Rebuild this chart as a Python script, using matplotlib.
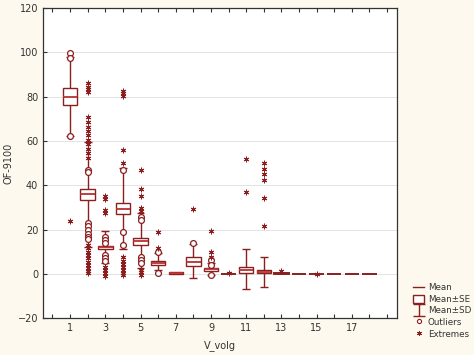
import matplotlib
matplotlib.use('Agg')
import matplotlib.pyplot as plt
from matplotlib.patches import Rectangle
from matplotlib.lines import Line2D
from matplotlib.path import Path

# per-category summary (V_volg = 1..18)
cats = list(range(1, 19))
means = [80, 35.9, 12, 29.4, 14.8, 5, 0.3, 5.5, 2, 0, 1.7, 1, 0.1, 0, 0, 0, 0, 0]
se_lo = [76.2, 33.3, 11, 26.8, 13, 3.9, 0, 3.6, 1.4, 0, 0.2, 0.2, 0, 0, 0, 0, 0, 0]
se_hi = [83.9, 38.1, 12.5, 32.2, 16.3, 5.9, 0.7, 7.4, 2.4, 0, 3.2, 1.7, 0.3, 0, 0, 0, 0, 0]
sd_lo = [62.2, 11.9, 5, 11.2, 2.6, 1.7, 0, -2.1, -0.5, 0, -7, -5.9, 0, 0, 0, 0, 0, 0]
sd_hi = [97.8, 59.6, 19.3, 48, 27.4, 9.2, 0.7, 13.4, 4.7, 0, 11, 7.7, 0.3, 0, 0, 0, 0, 0]

out_x = [1, 1, 1,
         2, 2, 2, 2, 2, 2, 2, 2,
         3, 3, 3, 3, 3, 3,
         4, 4, 4,
         5, 5, 5, 5, 5,
         6, 6,
         8,
         9, 9, 9]
out_y = [99.7, 97.5, 62.2,
         47, 45.8, 23, 21.5, 20, 18.2, 16.7, 15.7,
         16.7, 15.3, 13.9, 8.4, 7, 5.9,
         46.8, 19, 13,
         25.6, 24.2, 7.6, 6.2, 4.8,
         10, 0.2,
         13.7,
         6.2, 3.9, -0.6]

ext_x = [1,
         2, 2, 2, 2, 2, 2, 2, 2, 2, 2, 2, 2, 2, 2, 2, 2, 2, 2, 2, 2, 2, 2, 2, 2,
         3, 3, 3, 3, 3, 3, 3, 3,
         4, 4, 4, 4, 4, 4, 4, 4, 4, 4, 4, 4,
         5, 5, 5, 5, 5, 5, 5, 5,
         6, 6,
         8,
         9, 9, 9,
         10,
         11, 11,
         12, 12, 12, 12, 12, 12,
         13,
         15]
ext_y = [23.7,
         86, 84.6, 83.3, 82, 70.7, 68.5, 66.5, 64.5, 62.5, 60.5, 58.5, 56.5, 54.5, 52.5,
         13, 11.5, 10, 8.5, 7, 5.5, 4, 2.5, 1.2, 0.4,
         35, 34, 28.8, 27.4, 3, 1.5, 0.2, -1,
         82.5, 81.5, 80.5, 55.8, 50.2, 7.5, 6, 4.5, 3, 1.5, 0.3, -0.6,
         47, 38.5, 35, 29.7, 28.4, 1.8, 0.6, -0.6,
         19, 11.5,
         29.5,
         19.4, 9.9, 7.8,
         0.2,
         52, 37,
         50, 47.5, 45.3, 42.3, 34.3, 21.5,
         1.4,
         0.1]

red = '#8b1f1f'
mean_red = '#b83232'
box_w = 0.82
cap_w = 0.45

fig = plt.figure(figsize=(4.74, 3.55), dpi=100)
fig.patch.set_facecolor('#fdf9ee')
ax = fig.add_axes([0.091, 0.104, 0.746, 0.873])
ax.set_facecolor('white')

for c, m, sl, sh, dl, dh in zip(cats, means, se_lo, se_hi, sd_lo, sd_hi):
    if sh - sl > 0.35:
        ax.add_patch(Rectangle((c - box_w / 2, sl), box_w, sh - sl,
                               facecolor='white', edgecolor=red, lw=1.0, zorder=3))
        ax.hlines(m, c - box_w / 2, c + box_w / 2, color=mean_red, lw=1.3, zorder=4)
    else:
        ax.add_patch(Rectangle((c - box_w / 2, sl), box_w, sh - sl,
                               facecolor=mean_red, edgecolor=red, lw=1.4, zorder=3))
    if dh > sh:
        ax.vlines(c, sh, dh, color=red, lw=1.0, zorder=2)
        ax.hlines(dh, c - cap_w / 2, c + cap_w / 2, color=red, lw=1.0, zorder=2)
    if dl < sl:
        ax.vlines(c, dl, sl, color=red, lw=1.0, zorder=2)
        ax.hlines(dl, c - cap_w / 2, c + cap_w / 2, color=red, lw=1.0, zorder=2)

ax.plot(out_x, out_y, 'o', ms=4.2, mfc='white', mec=red, mew=0.9, ls='none', zorder=5)
ax.plot(ext_x, ext_y, marker=(6, 2, 0), ms=4, color=red, mew=0.7, ls='none', zorder=5)

ax.set_xlim(-0.53, 19.55)
ax.set_ylim(-20, 120)
ax.set_xticks(range(0, 20))
ax.set_xticklabels([str(i) if (i % 2 == 1 and i <= 17) else '' for i in range(0, 20)])
ax.set_yticks(range(-20, 121, 20))
ax.tick_params(axis='both', labelsize=7, colors='#333333', length=3, width=0.8)
ax.tick_params(axis='x', direction='in', top=True)
ax.tick_params(axis='y', direction='in')
ax.grid(axis='y', color='#dedede', lw=0.6)
ax.set_axisbelow(True)
for s in ax.spines.values():
    s.set_color('#333333')
    s.set_linewidth(0.9)

ax.set_xlabel('V_volg', fontsize=7, color='#333333', labelpad=5)
ax.set_ylabel('OF-9100', fontsize=7, color='#333333', labelpad=3)

# legend: "I" shaped marker for mean +- SD
sd_path = Path([(-1, 1), (1, 1), (0, 1), (0, -1), (-1, -1), (1, -1)],
               [Path.MOVETO, Path.LINETO, Path.MOVETO, Path.LINETO, Path.MOVETO, Path.LINETO])
handles = [
    Line2D([], [], color=red, lw=1.0),
    Rectangle((0, 0), 1, 1, facecolor='white', edgecolor=red, lw=1.0),
    Line2D([], [], marker=sd_path, ms=9, color=red, mew=1.0, ls='none'),
    Line2D([], [], marker='o', ms=3, mfc='white', mec=red, mew=0.8, ls='none'),
    Line2D([], [], marker=(6, 2, 0), ms=3.5, color=red, mew=0.7, ls='none'),
]
labels = ['Mean', 'Mean±SE', 'Mean±SD', 'Outliers', 'Extremes']
fig.legend(handles, labels, loc='upper left', bbox_to_anchor=(0.862, 0.215),
           frameon=False, fontsize=6.3, handlelength=1.3, handleheight=1.0,
           handletextpad=0.4, labelspacing=0.3, borderpad=0,
           labelcolor='#333333')

fig.savefig('out.png', dpi=100, facecolor=fig.get_facecolor())
